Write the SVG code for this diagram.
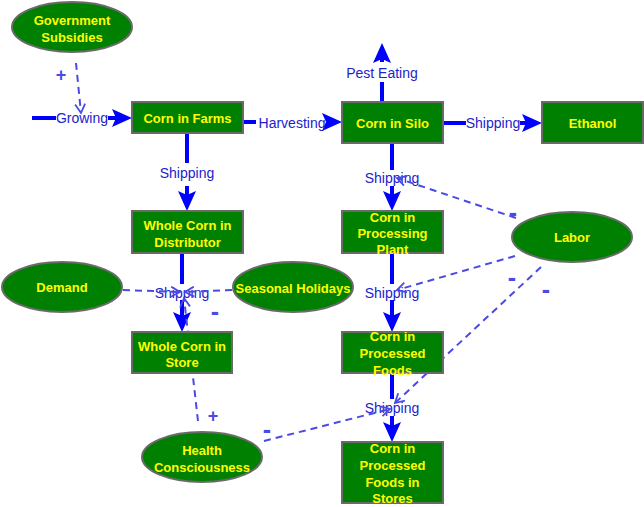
<svg xmlns="http://www.w3.org/2000/svg" width="644" height="507" viewBox="0 0 644 507">
<style>
.box{fill:#008000;stroke:#6a6a6a;stroke-width:2}
.nt{font-family:"Liberation Sans",Arial,sans-serif;font-size:13px;font-weight:bold;fill:#ffff00;text-anchor:middle}
.flow{stroke:#0000ff;stroke-width:4;fill:none}
.fl{font-family:"Liberation Sans",Arial,sans-serif;font-size:14px;fill:#2222cc;text-anchor:middle}
.link{stroke:#4a4ae6;stroke-width:2;stroke-dasharray:7,5;fill:none}
.sign{font-family:"Liberation Sans",Arial,sans-serif;font-size:18px;font-weight:bold;fill:#4a4ae6;text-anchor:middle}
.minus{font-family:"Liberation Sans",Arial,sans-serif;font-size:25px;font-weight:bold;fill:#4a4ae6;text-anchor:middle}
</style>
<defs>
<marker id="fa" markerUnits="userSpaceOnUse" markerWidth="22" markerHeight="22" viewBox="0 -10 22 20" refX="14" refY="0" orient="auto">
<path d="M0,-9 L20,0 L0,9 L4,0 z" fill="#0000ff"/>
</marker>
<marker id="la" markerUnits="userSpaceOnUse" markerWidth="12" markerHeight="12" viewBox="-1 -6 12 12" refX="9" refY="0" orient="auto">
<path d="M0,-5 L9,0 L0,5" fill="none" stroke="#4a4ae6" stroke-width="1.8"/>
</marker>
</defs>

<g id="connectors">
<!-- flows -->
<line class="flow" x1="32" y1="118" x2="56" y2="118"/>
<line class="flow" x1="108" y1="118" x2="126" y2="118" marker-end="url(#fa)"/>
<text class="fl" x="82" y="123">Growing</text>

<line class="flow" x1="243" y1="122" x2="256" y2="122"/>
<line class="flow" x1="327" y1="122" x2="336" y2="122" marker-end="url(#fa)"/>
<text class="fl" x="292" y="128">Harvesting</text>

<line class="flow" x1="382" y1="102" x2="382" y2="82"/>
<line class="flow" x1="382" y1="62" x2="382" y2="49" marker-end="url(#fa)"/>
<text class="fl" x="382" y="78">Pest Eating</text>

<line class="flow" x1="443" y1="123" x2="466" y2="123"/>
<line class="flow" x1="520" y1="123" x2="536" y2="123" marker-end="url(#fa)"/>
<text class="fl" x="493" y="128">Shipping</text>

<line class="flow" x1="187" y1="133" x2="187" y2="163"/>
<line class="flow" x1="187" y1="186" x2="187" y2="205" marker-end="url(#fa)"/>
<text class="fl" x="187" y="178">Shipping</text>

<line class="flow" x1="392" y1="143" x2="392" y2="170"/>
<line class="flow" x1="392" y1="186" x2="392" y2="205" marker-end="url(#fa)"/>
<text class="fl" x="392" y="183">Shipping</text>

<line class="flow" x1="182" y1="253" x2="182" y2="284"/>
<line class="flow" x1="182" y1="300" x2="182" y2="326" marker-end="url(#fa)"/>
<text class="fl" x="182" y="298">Shipping</text>

<line class="flow" x1="392" y1="253" x2="392" y2="284"/>
<line class="flow" x1="392" y1="300" x2="392" y2="326" marker-end="url(#fa)"/>
<text class="fl" x="392" y="298">Shipping</text>

<line class="flow" x1="392" y1="373" x2="392" y2="399"/>
<line class="flow" x1="392" y1="416" x2="392" y2="436" marker-end="url(#fa)"/>
<text class="fl" x="392" y="413">Shipping</text>

<!-- influence links -->
<line class="link" x1="76" y1="63" x2="81" y2="113" marker-end="url(#la)"/>
<text class="sign" x="61" y="81">+</text>

<line class="link" x1="123" y1="290" x2="180" y2="292" marker-end="url(#la)"/>
<line class="link" x1="232" y1="290" x2="185" y2="292" marker-end="url(#la)"/>
<text class="minus" x="215" y="320">-</text>

<line class="link" x1="198" y1="421" x2="184" y2="298" marker-end="url(#la)"/>
<text class="sign" x="213" y="422">+</text>

<line class="link" x1="264" y1="441" x2="390" y2="409" marker-end="url(#la)"/>
<text class="minus" x="267" y="438">-</text>

<line class="link" x1="516" y1="218" x2="397" y2="178" marker-end="url(#la)"/>
<text class="minus" x="513" y="221">-</text>

<line class="link" x1="515" y1="256" x2="397" y2="290" marker-end="url(#la)"/>
<text class="minus" x="512" y="286">-</text>

<line class="link" x1="541" y1="267" x2="395" y2="403" marker-end="url(#la)"/>
<text class="minus" x="546" y="298">-</text>
</g>

<g id="gov-subsidies">
<ellipse class="box" cx="72" cy="27" rx="60" ry="25"/>
<text class="nt" x="72" y="25">Government</text>
<text class="nt" x="72" y="42">Subsidies</text>
</g>
<g id="corn-in-farms">
<rect class="box" x="132" y="102" width="111" height="31"/>
<text class="nt" x="187.5" y="123">Corn in Farms</text>
</g>
<g id="corn-in-silo">
<rect class="box" x="342" y="102" width="101" height="41"/>
<text class="nt" x="392.5" y="128">Corn in Silo</text>
</g>
<g id="ethanol">
<rect class="box" x="542" y="102" width="101" height="41"/>
<text class="nt" x="592.5" y="128">Ethanol</text>
</g>
<g id="whole-corn-distributor">
<rect class="box" x="132" y="211" width="111" height="42"/>
<text class="nt" x="187.5" y="230">Whole Corn in</text>
<text class="nt" x="187.5" y="247">Distributor</text>
</g>
<g id="corn-processing-plant">
<rect class="box" x="342" y="211" width="101" height="42"/>
<text class="nt" x="392.5" y="222">Corn in</text>
<text class="nt" x="392.5" y="238">Processing</text>
<text class="nt" x="392.5" y="254">Plant</text>
</g>
<g id="labor">
<ellipse class="box" cx="572" cy="237" rx="60" ry="25"/>
<text class="nt" x="572" y="242">Labor</text>
</g>
<g id="demand">
<ellipse class="box" cx="62" cy="287" rx="60" ry="25"/>
<text class="nt" x="62" y="292">Demand</text>
</g>
<g id="seasonal-holidays">
<ellipse class="box" cx="293" cy="287" rx="60" ry="25"/>
<text class="nt" x="293" y="293">Seasonal Holidays</text>
</g>
<g id="whole-corn-store">
<rect class="box" x="132" y="332" width="100" height="41"/>
<text class="nt" x="182" y="351">Whole Corn in</text>
<text class="nt" x="182" y="367">Store</text>
</g>
<g id="corn-processed-foods">
<rect class="box" x="342" y="332" width="101" height="41"/>
<text class="nt" x="392.5" y="341">Corn in</text>
<text class="nt" x="392.5" y="358">Processed</text>
<text class="nt" x="392.5" y="375">Foods</text>
</g>
<g id="health-consciousness">
<ellipse class="box" cx="202" cy="457" rx="60" ry="25"/>
<text class="nt" x="202" y="455">Health</text>
<text class="nt" x="202" y="472">Consciousness</text>
</g>
<g id="corn-processed-foods-stores">
<rect class="box" x="342" y="442" width="101" height="61"/>
<text class="nt" x="392.5" y="453">Corn in</text>
<text class="nt" x="392.5" y="470">Processed</text>
<text class="nt" x="392.5" y="487">Foods in</text>
<text class="nt" x="392.5" y="503">Stores</text>
</g>
</svg>
